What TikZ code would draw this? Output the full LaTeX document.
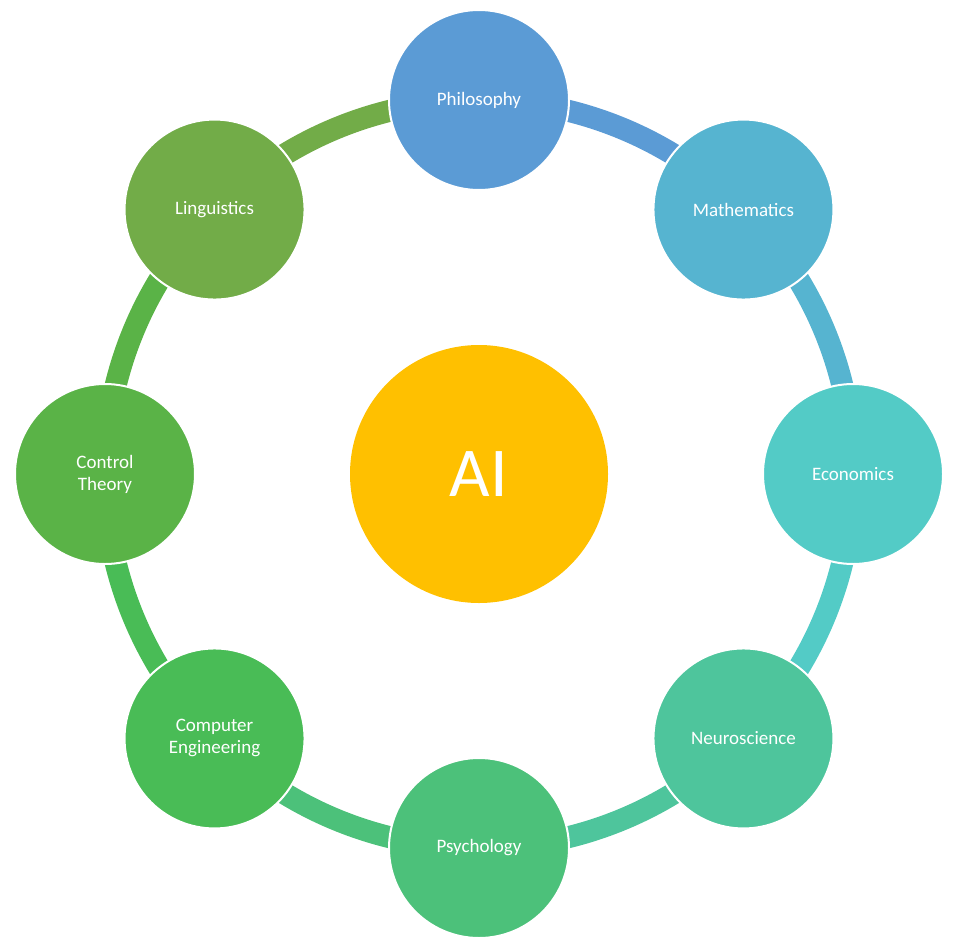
\documentclass[tikz,border=0pt]{standalone}
\usepackage{fontspec}
\setmainfont{Carlito}
\usetikzlibrary{calc}
\begin{document}
\begin{tikzpicture}[x=1pt,y=1pt,
  disc/.style={circle,minimum size=180pt,inner sep=0pt,draw=white,line width=2pt,text=white,font=\fontsize{19}{22}\selectfont,align=center},
  ring/.style={line width=22pt}]
\definecolor{c1}{HTML}{5B9BD5}
\definecolor{c2}{HTML}{56B4D0}
\definecolor{c3}{HTML}{53CBC6}
\definecolor{c4}{HTML}{4EC59C}
\definecolor{c5}{HTML}{4CC17A}
\definecolor{c6}{HTML}{49BC56}
\definecolor{c7}{HTML}{5AB347}
\definecolor{c8}{HTML}{72AC48}
\definecolor{ai}{HTML}{FFC000}
\useasboundingbox (0,0) rectangle (966,-950);
\coordinate (C) at (479,-474);
% ring segments, clockwise from Philosophy
\foreach \a/\c in {90/c1,45/c2,0/c3,-45/c4,-90/c5,-135/c6,-180/c7,-225/c8}{
  \draw[ring,\c] ($(C)+(\a:374)$) arc[start angle=\a, end angle=\a-45, radius=374];
}
\node[disc,fill=c1] (phil) at ($(C)+(90:374)$) {Philosophy};
\node[disc,fill=c2] (math) at ($(C)+(45:374)$) {Mathematics};
\node[disc,fill=c3] (econ) at ($(C)+(0:374)$) {Economics};
\node[disc,fill=c4] (neuro) at ($(C)+(-45:374)$) {Neuroscience};
\node[disc,fill=c5] (psych) at ($(C)+(-90:374)$) {Psychology};
\node[disc,fill=c6] (comp) at ($(C)+(-135:374)$) {Computer\\Engineering};
\node[disc,fill=c7] (ctrl) at ($(C)+(180:374)$) {Control\\Theory};
\node[disc,fill=c8] (ling) at ($(C)+(135:374)$) {Linguistics};
\node[circle,minimum size=258pt,inner sep=0pt,fill=ai,text=white,font=\fontsize{70}{80}\selectfont] (AI) at (C) {AI};
\end{tikzpicture}
\end{document}
